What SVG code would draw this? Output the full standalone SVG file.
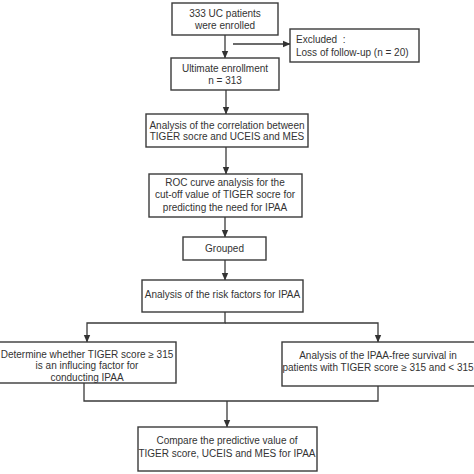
<svg xmlns="http://www.w3.org/2000/svg" width="474" height="474" viewBox="0 0 474 474">
<defs>
<marker id="ah" markerWidth="8" markerHeight="8" refX="7" refY="4" orient="auto" markerUnits="userSpaceOnUse">
<path d="M0,0.8 L7.5,4 L0,7.2 Z" fill="#333"/>
</marker>
<style>
rect{fill:#fff;stroke:#3a3a3a;stroke-width:1.4}
text{font-family:"Liberation Sans",Arial,sans-serif;font-size:10px;fill:#333;text-anchor:middle}
.l{text-anchor:start}
.c{fill:none;stroke:#3a3a3a;stroke-width:1.3}
</style>
</defs>
<rect x="0" y="0" width="474" height="474" style="fill:#fff;stroke:none"/>
<g id="connectors">
<line class="c" x1="225" y1="35" x2="225" y2="58" marker-end="url(#ah)"/>
<line class="c" x1="233" y1="44" x2="290" y2="44" marker-end="url(#ah)"/>
<line class="c" x1="226" y1="90" x2="226" y2="114" marker-end="url(#ah)"/>
<line class="c" x1="226" y1="147" x2="226" y2="174" marker-end="url(#ah)"/>
<line class="c" x1="225" y1="217" x2="225" y2="237" marker-end="url(#ah)"/>
<line class="c" x1="225" y1="260" x2="225" y2="280" marker-end="url(#ah)"/>
<polyline class="c" points="225,312 225,323 87,323 87,342" marker-end="url(#ah)"/>
<polyline class="c" points="225,323 378,323 378,342" marker-end="url(#ah)"/>
<polyline class="c" points="84,383 84,401 378,401 378,386"/>
<line class="c" x1="227" y1="401" x2="227" y2="427" marker-end="url(#ah)"/>
</g>
<g id="n1"><rect x="172" y="3" width="106" height="32"/><text x="225" y="16.5">333 UC patients</text><text x="225" y="28.5">were enrolled</text></g>
<g id="n_excl"><rect x="290" y="29" width="129" height="33"/><text class="l" x="296" y="42.5">Excluded&#160;&#160;:</text><text class="l" x="296" y="55.5">Loss of follow-up (n = 20)</text></g>
<g id="n2"><rect x="171" y="58" width="108" height="32"/><text x="225" y="71.5">Ultimate enrollment</text><text x="225" y="83.5">n = 313</text></g>
<g id="n3"><rect x="146" y="114" width="162" height="33"/><text x="227" y="128.5">Analysis of the correlation between</text><text x="227" y="140">TIGER socre and UCEIS and MES</text></g>
<g id="n4"><rect x="149" y="174" width="153" height="43"/><text x="225" y="185.5">ROC curve analysis for the</text><text x="225" y="197.5">cut-off value of TIGER socre for</text><text x="225" y="210.5">predicting the need for IPAA</text></g>
<g id="n5"><rect x="183" y="237" width="83" height="23"/><text x="224.5" y="252">Grouped</text></g>
<g id="n6"><rect x="142" y="280" width="161" height="32"/><text x="222.5" y="297.5">Analysis of the risk factors for IPAA</text></g>
<g id="n7"><rect x="-1" y="342" width="177" height="41"/><text x="87" y="357.5">Determine whether TIGER score ≥ 315</text><text x="87" y="369">is an influcing factor for</text><text x="87" y="381">conducting IPAA</text></g>
<g id="n8"><rect x="282" y="342" width="195" height="44"/><text x="378" y="358.5">Analysis of the IPAA-free survival in</text><text x="378" y="370.5">patients with TIGER score ≥ 315 and &lt; 315</text></g>
<g id="n9"><rect x="138" y="427" width="179" height="44"/><text x="227" y="443.5">Compare the predictive value of</text><text x="227" y="456.5">TIGER score, UCEIS and MES for IPAA</text></g>
</svg>
